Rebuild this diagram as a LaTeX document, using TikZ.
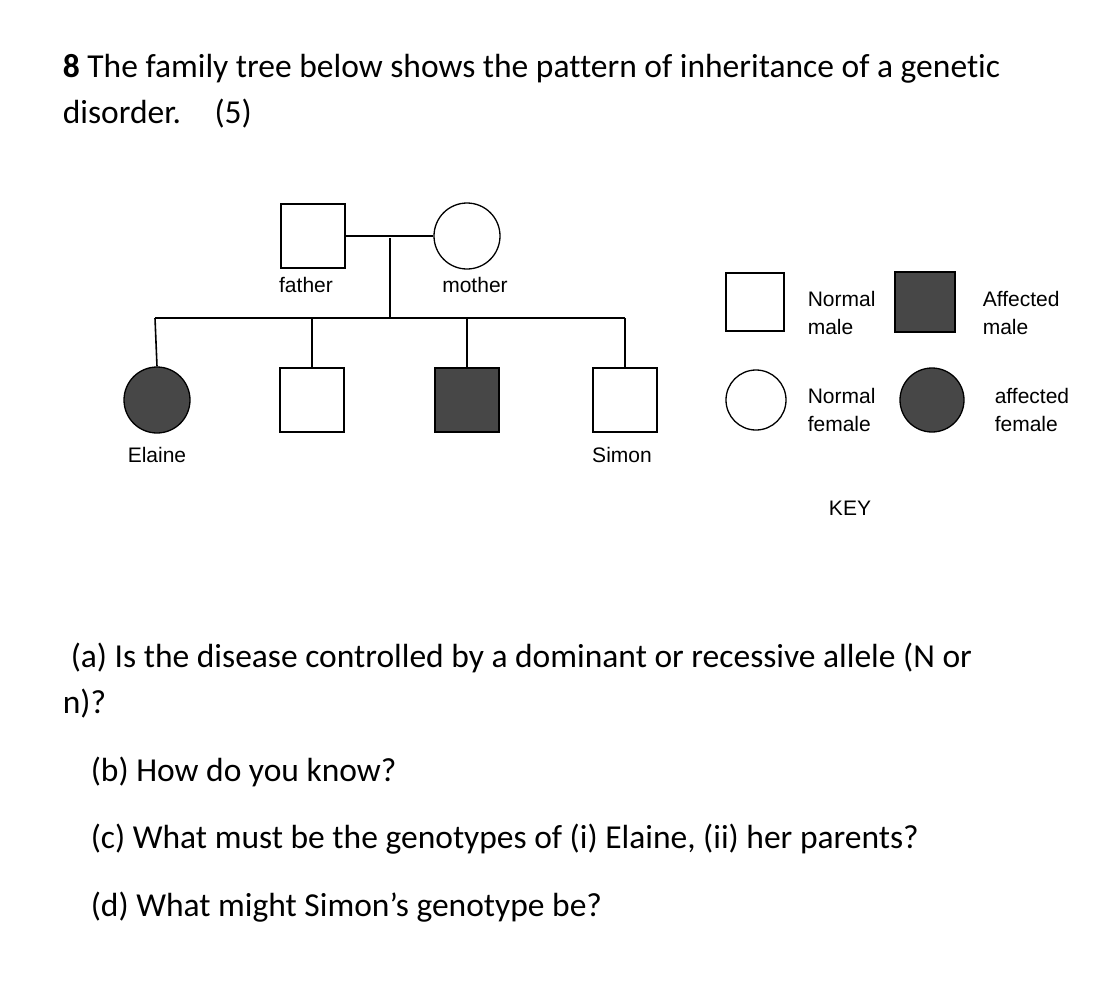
\documentclass[tikz,border=0pt]{standalone}
\usepackage{fontspec}
\setmainfont[Ligatures=NoCommon]{Carlito}
\newfontfamily\arial{Liberation Sans}
\begin{document}
\begin{tikzpicture}[x=1pt,y=-1pt,line width=1.6pt,
  txt/.style={anchor=base west,inner sep=0,font=\fontsize{33.5}{40}\selectfont},
  lab/.style={anchor=base,inner sep=0,font=\arial\fontsize{21}{25}\selectfont},
  labw/.style={anchor=base west,inner sep=0,font=\arial\fontsize{21}{25}\selectfont},
  sq/.style={draw,minimum size=64pt,inner sep=0,line width=1.3pt},
  ci/.style={draw,circle,minimum size=66pt,inner sep=0,line width=1.3pt},
  aff/.style={fill=black!72}]
\useasboundingbox (0,0) rectangle (1098,986);
\node[txt] (t1) at (62,77) {\textbf{8} The family tree below shows the pattern of inheritance of a genetic};
\node[txt] (t2) at (62,123) {disorder.\quad(5)};
% parents
\node[sq] (fa) at (313,236) {};
\node[ci] (mo) at (467,236) {};
\draw (fa.east) -- (mo.west);
\coordinate (m) at (390,238);
\coordinate (s) at (390,318);
\draw (m) -- (s);
\coordinate (sl) at (155,318);
\coordinate (sr) at (625,318);
\draw (sl) -- (sr);
% children
\node[ci,aff] (el) at (157,400) {};
\node[sq] (c2) at (312,400) {};
\node[sq,aff] (c3) at (467,400) {};
\node[sq] (si) at (625,400) {};
\draw (sl) -- (el.north);
\draw (312,318) -- (c2.north);
\draw (467,318) -- (c3.north);
\draw (sr) -- (si.north);
\node[lab] (lf) at (306,292) {father};
\node[lab] (lm) at (475,292) {mother};
\node[lab] (le) at (157,462) {Elaine};
\node[lab] (ls) at (622,462) {Simon};
% key
\node[sq,minimum size=58pt] (k1) at (755,302) {};
\node[labw] at (807,306) {Normal};
\node[labw] at (807,334) {male};
\node[sq,aff,minimum size=60pt] (k2) at (925,302) {};
\node[labw] at (982,306) {Affected};
\node[labw] at (982,334) {male};
\node[ci,minimum size=60pt] (k3) at (756,400) {};
\node[labw] at (807,403) {Normal};
\node[labw] at (807,431) {female};
\node[ci,aff,minimum size=64pt] (k4) at (932,400) {};
\node[labw] at (994,403) {affected};
\node[labw] at (994,431) {female};
\node[lab] (key) at (850,515) {KEY};
% questions
\node[txt] at (70,667) {(a) Is the disease controlled by a dominant or recessive allele (N or};
\node[txt] at (62,713) {n)?};
\node[txt] at (90,781) {(b) How do you know?};
\node[txt] at (90,848) {(c) What must be the genotypes of (i) Elaine, (ii) her parents?};
\node[txt] at (90,916) {(d) What might Simon\char"27 s genotype be?};
\end{tikzpicture}
\end{document}
